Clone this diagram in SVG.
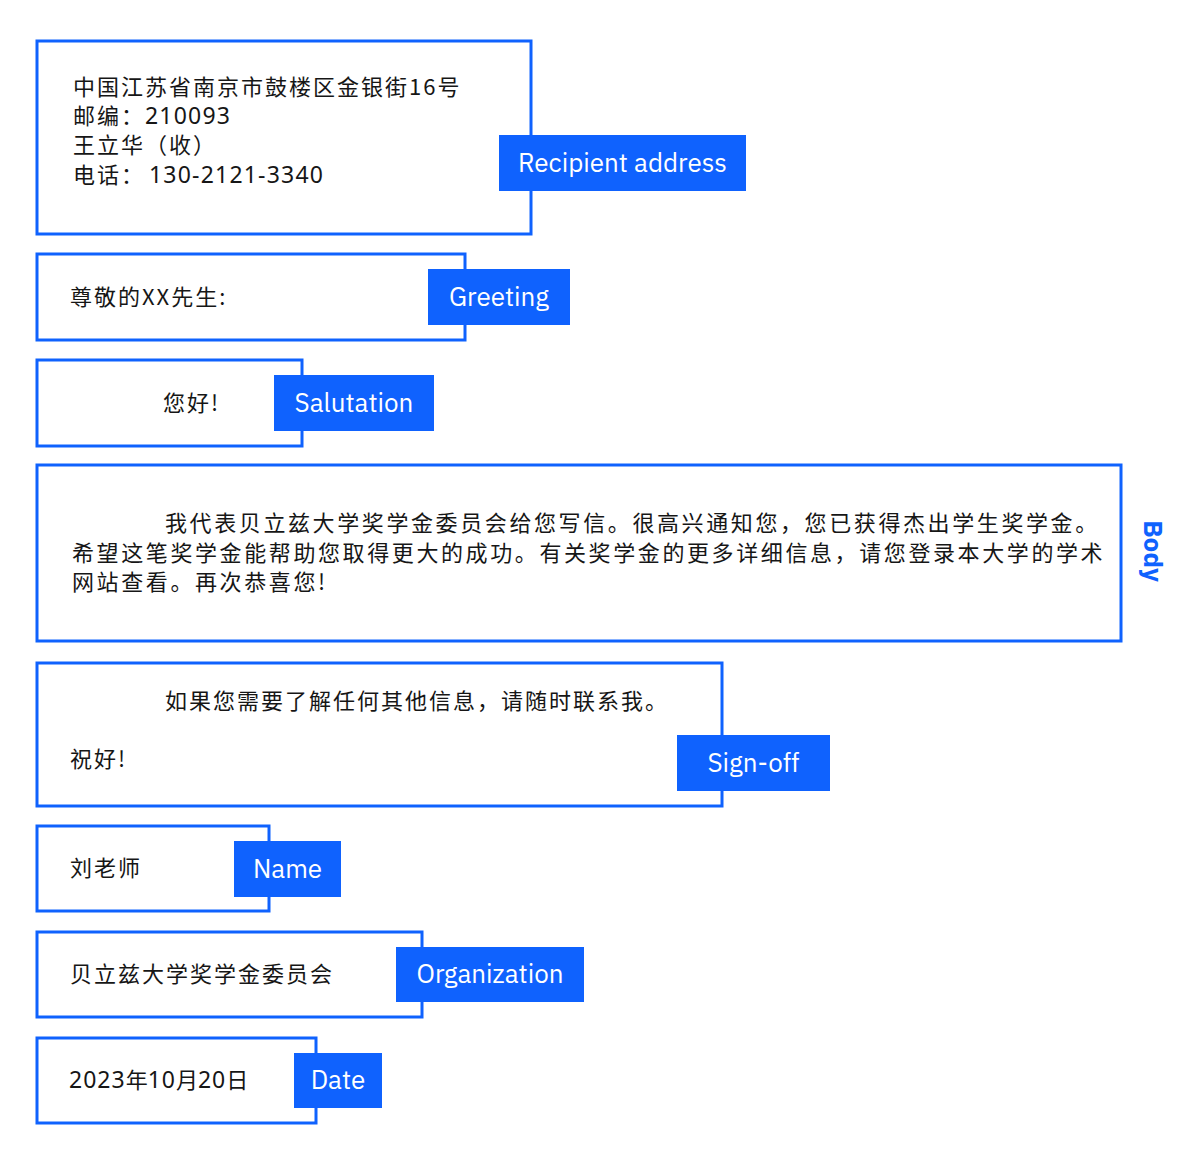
<svg xmlns="http://www.w3.org/2000/svg" width="1200" height="1163" viewBox="0 0 1200 1163">
<style>
.b{fill:#fff;stroke:#0f62fe;stroke-width:3}
.l{fill:#0f62fe}
.lt{fill:#fff;font-family:"IBM Plex Sans","Noto Sans",sans-serif;font-size:26px}
.t{fill:#161616;font-family:"Noto Sans CJK SC","Noto Sans",sans-serif;font-size:22px;letter-spacing:2px}
.n{fill:#161616;font-family:"Noto Sans","Noto Sans CJK SC",sans-serif;font-size:23px}
</style>
<rect width="1200" height="1163" fill="#fff"/>
<g id="recipient"><rect class="b" x="37" y="41" width="494" height="193"/>
<text class="t" x="73" y="95">中国江苏省南京市鼓楼区金银街16号</text>
<text class="t" x="73" y="124">邮编：<tspan class="n" style="letter-spacing:1.2px">210093</tspan></text>
<text class="t" x="73" y="153">王立华（收）</text>
<text class="t" x="73" y="183">电话：<tspan class="n" style="letter-spacing:1.2px" dx="4">130-2121-3340</tspan></text>
<rect class="l" x="499" y="135" width="247" height="56"/><text class="lt" x="622.5" y="172" text-anchor="middle">Recipient address</text></g>
<g id="greeting"><rect class="b" x="37" y="254" width="428" height="86"/>
<text class="t" x="70" y="305">尊敬的XX先生:</text>
<rect class="l" x="428" y="269" width="142" height="56"/><text class="lt" x="499" y="306" text-anchor="middle">Greeting</text></g>
<g id="salutation"><rect class="b" x="37" y="360" width="265" height="86"/>
<text class="t" x="163" y="411">您好!</text>
<rect class="l" x="274" y="375" width="160" height="56"/><text class="lt" x="354" y="412" text-anchor="middle">Salutation</text></g>
<g id="body"><rect class="b" x="37" y="465" width="1084" height="176"/>
<text class="t" x="165" y="531" style="letter-spacing:2.6px">我代表贝立兹大学奖学金委员会给您写信。很高兴通知您，您已获得杰出学生奖学金。</text>
<text class="t" x="72" y="561" style="letter-spacing:2.6px">希望这笔奖学金能帮助您取得更大的成功。有关奖学金的更多详细信息，请您登录本大学的学术</text>
<text class="t" x="72" y="590" style="letter-spacing:2.6px">网站查看。再次恭喜您!</text>
<text transform="translate(1144,551) rotate(90)" text-anchor="middle" fill="#0f62fe" font-family="IBM Plex Sans,Noto Sans,sans-serif" font-size="26" font-weight="bold">Body</text></g>
<g id="signoff"><rect class="b" x="37" y="663" width="685" height="143"/>
<text class="t" x="165" y="709">如果您需要了解任何其他信息，请随时联系我。</text>
<text class="t" x="70" y="767">祝好!</text>
<rect class="l" x="677" y="735" width="153" height="56"/><text class="lt" x="753.5" y="772" text-anchor="middle">Sign-off</text></g>
<g id="name"><rect class="b" x="37" y="826" width="232" height="85"/>
<text class="t" x="70" y="876">刘老师</text>
<rect class="l" x="234" y="841" width="107" height="56"/><text class="lt" x="287.5" y="878" text-anchor="middle">Name</text></g>
<g id="organization"><rect class="b" x="37" y="932" width="385" height="85"/>
<text class="t" x="70" y="982">贝立兹大学奖学金委员会</text>
<rect class="l" x="396" y="947" width="188" height="55"/><text class="lt" x="490" y="983" text-anchor="middle">Organization</text></g>
<g id="date"><rect class="b" x="37" y="1038" width="279" height="85"/>
<text class="n" x="69" y="1088" style="letter-spacing:1px">2023<tspan class="t" style="letter-spacing:0">年</tspan>10<tspan class="t" style="letter-spacing:0">月</tspan>20<tspan class="t" style="letter-spacing:0">日</tspan></text>
<rect class="l" x="294" y="1053" width="88" height="55"/><text class="lt" x="338" y="1089" text-anchor="middle">Date</text></g>
<g id="connectors"/>
</svg>
